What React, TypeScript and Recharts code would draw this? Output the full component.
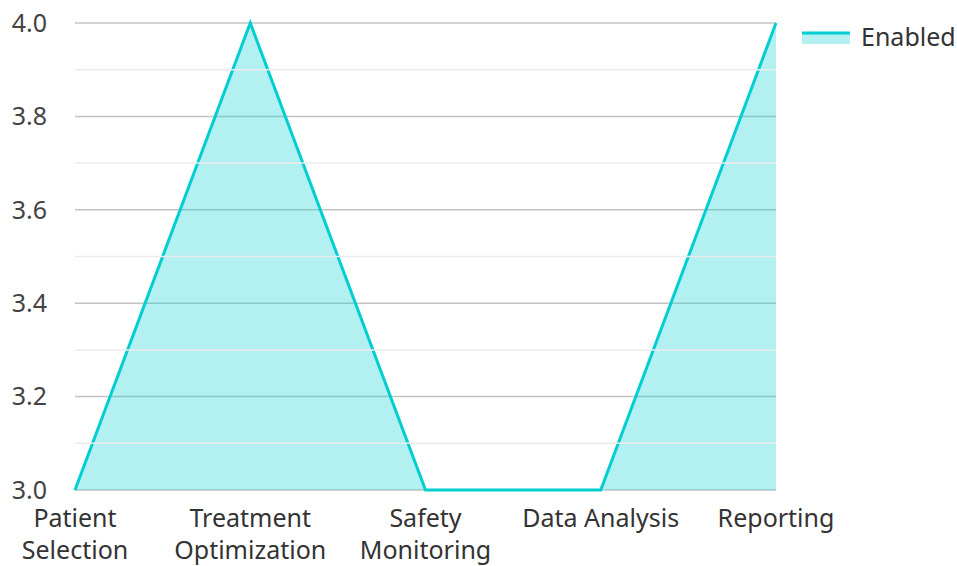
import React from "react";
import {
  AreaChart,
  Area,
  XAxis,
  YAxis,
  CartesianGrid,
  ReferenceLine,
} from "recharts";

const categories = [
  "Patient Selection",
  "Treatment Optimization",
  "Safety Monitoring",
  "Data Analysis",
  "Reporting",
];
const enabledValues = [3.0, 4.0, 3.0, 3.0, 4.0];
const majorTicks = [3.0, 3.2, 3.4, 3.6, 3.8, 4.0];
const minorTicks = [3.1, 3.3, 3.5, 3.7, 3.9];

const data = categories.map((name, i) => ({ name, enabled: enabledValues[i] }));

const TEAL = "#00CED1";
const FONT = "'Noto Sans', 'Open Sans', sans-serif";
const FS = 25;

// long labels go on two lines, like the reference
const splitLabel = (s: string) => (s.length > 14 ? s.split(" ") : [s]);

const XTick = (props: any) => {
  const { x, y, payload } = props;
  const lines = splitLabel(String(payload.value));
  return (
    <text
      x={x}
      y={y + 37}
      textAnchor="middle"
      fontSize={FS}
      fill="#333"
      fontFamily={FONT}
    >
      {lines.map((l, i) => (
        <tspan key={i} x={x} dy={i === 0 ? 0 : 32}>
          {l}
        </tspan>
      ))}
    </text>
  );
};

const LegendBox = () => (
  <div
    style={{
      position: "absolute",
      left: 802,
      top: 22,
      display: "flex",
      alignItems: "center",
      fontFamily: FONT,
    }}
  >
    <svg width={48} height={16} style={{ marginRight: 11 }}>
      <rect x={0} y={5} width={48} height={11} fill={TEAL} fillOpacity={0.3} />
      <line x1={0} y1={5} x2={48} y2={5} stroke={TEAL} strokeWidth={3} />
    </svg>
    <span style={{ fontSize: FS, color: "#333", lineHeight: "28px" }}>Enabled</span>
  </div>
);

export default function App() {
  return (
    <div style={{ position: "absolute", left: 0, top: 0, width: 957, height: 566 }}>
      <AreaChart
        width={957}
        height={566}
        data={data}
        margin={{ top: 23, right: 181, bottom: 46, left: 0 }}
      >
        <CartesianGrid vertical={false} stroke="#c4c4c4" strokeWidth={1.5} />
        {minorTicks.map((v) => (
          <ReferenceLine key={v} y={v} stroke="#ebebeb" strokeWidth={1.5} />
        ))}
        <XAxis
          dataKey="name"
          height={30}
          axisLine={false}
          tickLine={false}
          tickSize={0}
          tickMargin={0}
          interval={0}
          tick={(p: any) => <XTick {...p} />}
        />
        <YAxis
          domain={[3, 4]}
          ticks={majorTicks}
          width={75}
          axisLine={false}
          tickLine={false}
          tickSize={0}
          tickMargin={28}
          tickFormatter={(v: number) => v.toFixed(1)}
          tick={{ fontSize: FS, fill: "#444", fontFamily: FONT }}
        />
        <Area
          type="linear"
          dataKey="enabled"
          stroke={TEAL}
          strokeWidth={3}
          fill={TEAL}
          fillOpacity={0.3}
          isAnimationActive={false}
          dot={false}
          activeDot={false}
        />
      </AreaChart>
      <LegendBox />
    </div>
  );
}
